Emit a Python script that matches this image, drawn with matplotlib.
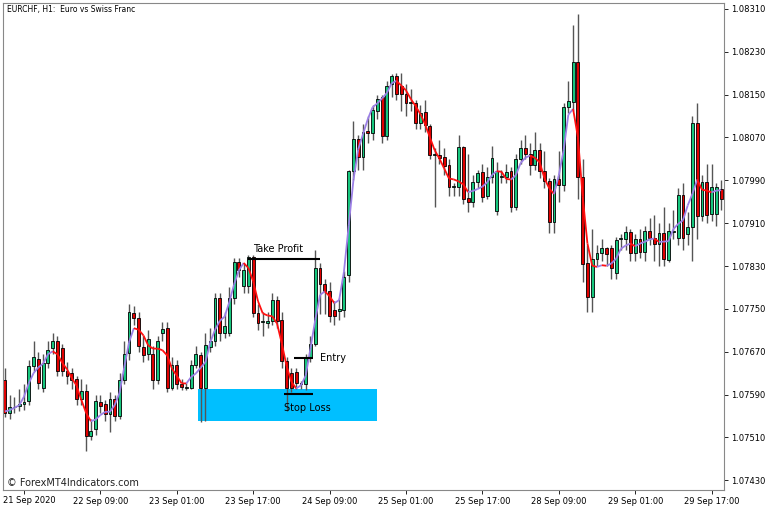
import numpy as np
import pandas as pd
import matplotlib
matplotlib.use("Agg")
import matplotlib.pyplot as plt
from matplotlib.collections import LineCollection
from matplotlib.patches import Rectangle
from matplotlib.transforms import blended_transform_factory

# prices in points above 1.07000 (1 pt = 0.00001)
opens = [618,556,566,569,572,578,643,656,603,649,677,690,677,634,631,620,581,597,513,525,
         577,572,553,581,550,618,668,742,733,679,665,666,618,705,714,603,646,610,603,603,
         646,664,602,679,690,770,705,705,770,837,792,792,846,742,726,724,727,767,730,653,
         631,633,610,610,660,685,827,796,784,748,747,748,813,1007,1067,1033,1083,1078,1120,1145,
         1072,1169,1185,1166,1151,1135,1134,1097,1117,1092,1037,1037,1033,1018,977,977,1053,957,950,987,
         1005,961,996,932,996,996,1007,940,1029,1051,1039,1019,1046,1007,988,912,993,982,1127,1137,
         1211,996,835,773,844,854,863,863,817,880,880,894,854,880,856,895,882,872,891,841,
         893,882,963,889,903,1097,924,986,928,928,974]
closes = [556,566,567,573,577,643,660,612,649,674,690,634,634,625,618,581,597,513,523,578,
          569,553,581,550,618,666,744,733,680,664,693,618,690,713,603,646,609,604,603,646,
          665,602,682,691,770,705,718,770,837,823,823,846,742,724,726,727,767,727,653,603,
          603,612,610,660,685,826,796,784,736,736,750,810,1007,1067,1033,1081,1078,1121,1141,1072,
          1167,1184,1151,1151,1135,1135,1097,1115,1093,1037,1037,1031,1016,977,977,1053,956,950,987,1004,
          959,996,1031,1008,996,1005,940,1029,1051,1039,1019,1046,1007,988,912,992,982,1127,1138,1211,
          996,833,773,844,854,863,852,826,878,880,894,854,880,856,895,882,872,891,843,895,
          893,963,882,903,1097,924,986,925,977,977,956]
highs = [640,590,585,600,610,655,690,670,665,690,705,700,685,650,640,625,620,610,545,590,
         590,580,595,590,630,690,760,755,745,700,710,680,700,725,725,660,655,620,612,655,
         680,670,705,715,780,780,745,790,845,845,835,850,850,760,745,745,780,775,745,660,
         640,640,615,665,700,860,835,805,800,765,770,820,1010,1100,1075,1095,1110,1130,1150,1150,
         1175,1188,1190,1190,1170,1160,1140,1130,1140,1095,1050,1065,1050,1030,985,1075,1055,1040,1000,1010,
         1020,1015,1055,1025,1010,1020,1015,1040,1065,1075,1060,1080,1060,1045,995,1000,1045,1135,1176,1280,
         1301,1030,870,900,870,880,865,870,885,890,905,900,890,900,905,920,925,910,940,910,
         935,975,985,930,1110,1135,1000,1020,1020,985,990]
lows = [548,545,555,560,562,570,635,600,595,640,665,625,625,610,600,570,570,485,505,515,
        555,540,520,540,545,610,655,720,670,650,655,600,610,690,595,598,600,598,598,600,
        640,538,540,670,680,690,695,700,760,810,780,780,735,710,700,715,720,715,640,560,
        595,600,600,598,650,680,740,740,725,720,730,735,800,990,1010,1010,1060,1065,1105,1060,
        1065,1145,1140,1120,1110,1120,1085,1085,1080,1030,940,1020,1000,960,960,960,945,930,940,975,
        950,955,985,925,985,985,930,935,1020,1030,1000,1010,995,975,892,892,950,970,1115,1120,
        955,800,745,745,830,840,830,805,805,860,860,840,840,845,840,870,840,830,830,838,
        880,870,860,870,840,880,915,910,915,905,935]

price_ticks = [1.08310,1.08230,1.08150,1.08070,1.07990,1.07910,1.07830,1.07750,1.07670,1.07590,1.07510,1.07430]
date_labels = ["21 Sep 2020","22 Sep 09:00","23 Sep 01:00","23 Sep 17:00","24 Sep 09:00",
               "25 Sep 01:00","25 Sep 17:00","28 Sep 09:00","29 Sep 01:00","29 Sep 17:00"]
date_pos = [4,20,36,52,68,84,100,116,132,148]

base = 1.07
o = base + np.array(opens)/1e5
c = base + np.array(closes)/1e5
h = base + np.array(highs)/1e5
l = base + np.array(lows)/1e5
n = len(o)
x = np.arange(n)

fig = plt.figure(figsize=(7.68,5.11), dpi=100)
ax = fig.add_axes([3/768, 21/511, 721/768, 487/511])

ax.add_patch(Rectangle((40.4, 1.07540), 37.6, 0.00061, color="#00BFFF", zorder=0, lw=0))

green, red = "#17C77E", "#E00000"
for i in range(n):
    up = c[i] >= o[i]
    ax.vlines(x[i], l[i], h[i], color="#555555", lw=1.0, zorder=1)
    lo, hi = min(o[i], c[i]), max(o[i], c[i])
    ax.add_patch(Rectangle((x[i]-0.3, lo), 0.6, max(hi-lo, 0.000015),
                           facecolor=green if up else red, edgecolor="black", lw=0.6, zorder=2))

s = pd.Series(c)
e1 = s.ewm(span=5, adjust=False).mean()
e2 = e1.ewm(span=5, adjust=False).mean()
ma = (2*e1 - e2).rolling(3, min_periods=1, center=True).mean().values
pts = np.column_stack([x, ma])
segs = np.stack([pts[:-1], pts[1:]], axis=1)
cols = [("#9C80E6" if ma[i+1] >= ma[i] else "#FF1010") for i in range(n-1)]
ax.add_collection(LineCollection(segs, colors=cols, lw=1.3, zorder=3))

ax.hlines(1.07844, 51, 66, color="black", lw=1.5, zorder=4)
ax.text(52, 1.07852, "Take Profit", fontsize=7, va="bottom", ha="left", zorder=5)
ax.hlines(1.07659, 60.5, 64.5, color="black", lw=1.5, zorder=4)
ax.text(66, 1.07659, "Entry", fontsize=7, va="center", ha="left", zorder=5)
ax.hlines(1.07592, 58.5, 64.5, color="black", lw=1.5, zorder=4)
ax.text(58.5, 1.07565, "Stop Loss", fontsize=7, va="center", ha="left", zorder=5)

ax.set_xlim(-0.4, n-0.4)
ax.set_ylim(1.07412, 1.08321)
ax.yaxis.tick_right()
ax.set_yticks(price_ticks)
ax.set_yticklabels([f"{v:.5f}" for v in price_ticks], fontsize=6)
ax.set_xticks(date_pos)
ax.set_xticklabels([""] + date_labels[1:], fontsize=6)
tr = blended_transform_factory(ax.transData, ax.transAxes)
ax.text(-0.4, -0.013, date_labels[0], transform=tr, fontsize=6, ha="left", va="top")
ax.tick_params(length=3, width=0.6, pad=2)
for sp in ax.spines.values():
    sp.set_color("#888888"); sp.set_linewidth(0.8)

ax.text(0.005, 0.995, "EURCHF, H1:  Euro vs Swiss Franc", transform=ax.transAxes,
        fontsize=5.5, va="top", ha="left")
ax.text(0.005, 0.005, "© ForexMT4Indicators.com", transform=ax.transAxes,
        fontsize=7, va="bottom", ha="left", color="#222222")

fig.savefig("out.png", dpi=100, facecolor="white")
